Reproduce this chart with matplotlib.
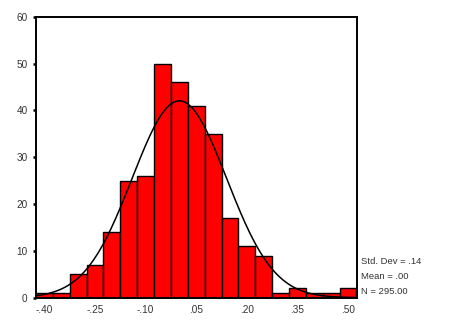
import numpy as np
import matplotlib.pyplot as plt

plt.rcParams['font.family'] = ['Liberation Sans', 'DejaVu Sans']

# histogram bins (centres) and counts
bin_centers = [-0.40, -0.35, -0.30, -0.25, -0.20, -0.15, -0.10, -0.05, 0.00, 0.05,
               0.10, 0.15, 0.20, 0.25, 0.30, 0.35, 0.40, 0.45, 0.50]
counts = [1, 1, 5, 7, 14, 25, 26, 50, 46, 41, 35, 17, 11, 9, 1, 2, 1, 1, 2]
bin_width = 0.05

# summary statistics shown on the chart
std_dev = 0.14
mean = 0.00
n_obs = 295.00

xtick_vals = [-0.40, -0.25, -0.10, 0.05, 0.20, 0.35, 0.50]
xtick_labels = ['-.40', '-.25', '-.10', '.05', '.20', '.35', '.50']
ytick_vals = [0, 10, 20, 30, 40, 50, 60]

text_col = '#333333'

fig = plt.figure(figsize=(4.74, 3.23), dpi=100)
ax = fig.add_axes([36 / 474, 25.3 / 323, 320.5 / 474, 281 / 323])

ax.bar(bin_centers, counts, width=bin_width, color='#ff0000',
       edgecolor='black', linewidth=1.0, zorder=2)

# normal curve using the stated statistics
xs = np.linspace(-0.425, 0.525, 300)
ys = n_obs * bin_width / (std_dev * np.sqrt(2 * np.pi)) * np.exp(-0.5 * ((xs - mean) / std_dev) ** 2)
ax.plot(xs, ys, color='black', linewidth=1.1, zorder=3)

ax.set_xlim(-0.425, 0.525)
ax.set_ylim(0, 60)
ax.set_xticks(xtick_vals)
ax.set_xticklabels(xtick_labels)
ax.set_yticks(ytick_vals)
ax.tick_params(axis='x', length=0, pad=5, labelsize=7.2, labelcolor=text_col)
ax.tick_params(axis='y', length=2.5, width=1.8, pad=3.5, labelsize=7.2, labelcolor=text_col)
for s in ax.spines.values():
    s.set_linewidth(1.4)

stats = ['Std. Dev = .14', 'Mean = .00', 'N = 295.00']
for i, t in enumerate(stats):
    fig.text(361 / 474, 1 - (261.5 + 15.2 * i) / 323, t, fontsize=6.8,
             color=text_col, ha='left', va='center')

fig.savefig('out.png', dpi=100)
